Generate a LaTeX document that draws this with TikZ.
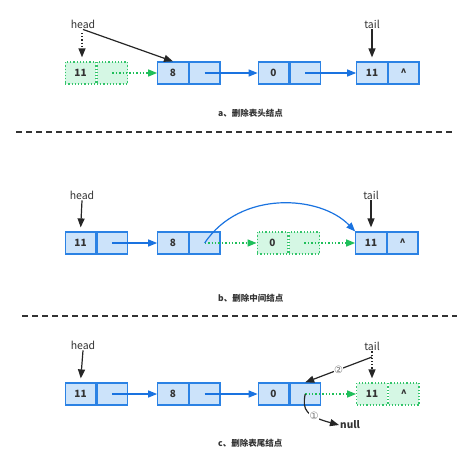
\documentclass[tikz,border=0pt]{standalone}
\usepackage{fontspec}
\setmainfont{Noto Sans CJK SC}
\newfontfamily\symfont{DejaVu Sans}
\usetikzlibrary{arrows.meta}
\definecolor{bborder}{HTML}{2B82E4}
\definecolor{bfill}{HTML}{CCE3FA}
\definecolor{gborder}{HTML}{33C46A}
\definecolor{gfill}{HTML}{D5F7E4}
\definecolor{barrow}{HTML}{1A73E0}
\definecolor{garrow}{HTML}{1FBF5A}
\definecolor{txtgray}{HTML}{333333}
\tikzset{
  cellb/.style={draw=bborder, fill=bfill, line width=1.2pt, minimum width=30.5pt, minimum height=22pt, inner sep=0pt, font=\bfseries\fontsize{10}{12}\selectfont, text=txtgray},
  cellg/.style={cellb, draw=gborder, fill=gfill, dotted, line width=1.3pt},
  ptr/.style={font=\fontsize{10.5}{12}\selectfont, text=txtgray, inner sep=1pt},
  captxt/.style={font=\bfseries\fontsize{8.5}{10}\selectfont, text=txtgray, anchor=west, inner sep=0pt},
  tipk/.style={-{Triangle[length=9pt,width=7pt]}},
  blk/.style={tipk, line width=1.2pt, draw=black!85},
  blkdot/.style={blk, dotted, line width=1.4pt},
  blu/.style={tipk, line width=1.2pt, draw=barrow},
  grn/.style={tipk, line width=1.4pt, dotted, draw=garrow},
  sepline/.style={dash pattern=on 6pt off 4pt, line width=1.1pt, draw=black!80},
  circ/.style={font=\symfont\fontsize{10}{10}\selectfont, text=black!55, fill=white, inner sep=0.2pt},
}
\begin{document}
\begin{tikzpicture}[x=1pt,y=-1pt]
\useasboundingbox (0,0) rectangle (474,471);
% ---------- row a ----------
\node[cellg] (a1) at (80.5,73) {11};
\node[cellg, anchor=west] (a1r) at (a1.east) {};
\node[cellb] (a2) at (173,73) {8};
\node[cellb, anchor=west] (a2r) at (a2.east) {};
\node[cellb] (a3) at (273.5,73) {0};
\node[cellb, anchor=west] (a3r) at (a3.east) {};
\node[cellb] (a4) at (372,73) {11};
\node[cellb, anchor=west] (a4r) at (a4.east) {\textasciicircum};
\node[ptr] (ha) at (83,24) {head};
\node[ptr] (ta) at (372,24) {tail};
\coordinate (hab) at (82,33);
\draw[blkdot, shorten >=4pt] (hab) -- (hab |- a1.north);
\draw[blk] (ha.south) -- (a2.north);
\draw[blk, shorten >=4pt] (ta.south) -- (a4.north);
\draw[grn] (a1r.center) -- (a2.west);
\draw[blu] (a2r.center) -- (a3.west);
\draw[blu] (a3r.center) -- (a4.west);
\node[captxt] (capa) at (218,113) {a、删除表头结点};
\coordinate (s1a) at (16,132);
\coordinate (s1b) at (452,132);
\draw[sepline] (s1a) -- (s1b);
% ---------- row b ----------
\node[cellb] (b1) at (80.5,243) {11};
\node[cellb, anchor=west] (b1r) at (b1.east) {};
\node[cellb] (b2) at (173,243) {8};
\node[cellb, anchor=west] (b2r) at (b2.east) {};
\node[cellg] (b3) at (272.5,243) {0};
\node[cellg, anchor=west] (b3r) at (b3.east) {};
\node[cellb] (b4) at (371,243) {11};
\node[cellb, anchor=west] (b4r) at (b4.east) {\textasciicircum};
\node[ptr] (hb) at (82,195) {head};
\node[ptr] (tb) at (371,195) {tail};
\draw[blk, shorten >=4pt] (hb.south) -- (b1.north);
\draw[blk, shorten >=4pt] (tb.south) -- (b4.north);
\draw[blu] (b1r.center) -- (b2.west);
\draw[grn] (b2r.center) -- (b3.west);
\draw[grn] (b3r.center) -- (b4.west);
\draw[blu] (b2r.center) .. controls (240,190) and (320,195) .. (b4.north west);
\node[captxt] (capb) at (218,298) {b、删除中间结点};
\coordinate (s2a) at (22,316);
\coordinate (s2b) at (457,316);
\draw[sepline] (s2a) -- (s2b);
% ---------- row c ----------
\node[cellb] (c1) at (80.5,394) {11};
\node[cellb, anchor=west] (c1r) at (c1.east) {};
\node[cellb] (c2) at (173,394) {8};
\node[cellb, anchor=west] (c2r) at (c2.east) {};
\node[cellb] (c3) at (273.5,394) {0};
\node[cellb, anchor=west] (c3r) at (c3.east) {};
\node[cellg] (c4) at (372,394) {11};
\node[cellg, anchor=west] (c4r) at (c4.east) {\textasciicircum};
\node[ptr] (hc) at (83,345) {head};
\node[ptr] (tc) at (372,346) {tail};
\draw[blk, shorten >=4pt] (hc.south) -- (c1.north);
\draw[blkdot, shorten >=4pt] (tc.south) -- (c4.north);
\draw[blu] (c1r.center) -- (c2.west);
\draw[blu] (c2r.center) -- (c3.west);
\draw[grn] (c3r.center) -- (c4.west);
\coordinate (tcb) at (372,357);
\draw[blk] (tcb) -- node[circ, pos=0.5] (n2) {②} (c3r.north);
\node[font=\bfseries\fontsize{10}{12}\selectfont, text=txtgray, anchor=west, inner sep=1pt] (null) at (339,425) {null};
\draw[blk] (c3r.center) .. controls (302,410) and (306,416) .. node[circ, pos=0.65] (n1) {①} (null.west);
\node[captxt] (capc) at (218,443) {c、删除表尾结点};
\end{tikzpicture}
\end{document}
